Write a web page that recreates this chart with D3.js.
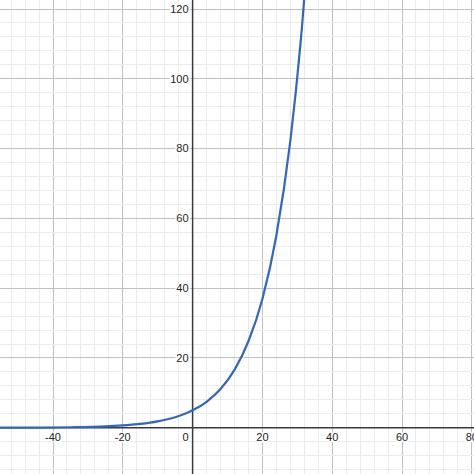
<!DOCTYPE html>
<html>
<head>
<meta charset="utf-8">
<script src="https://cdn.jsdelivr.net/npm/d3@7"></script>
<style>
  html, body { margin: 0; padding: 0; background: #fff; }
  svg { display: block; }
  text { font-family: "Liberation Sans", Arial, sans-serif; font-size: 11px; fill: #222; }
</style>
</head>
<body>
<div id="chart"></div>
<script>
// values
const curveX = [-56, -45, -35, -25, -15, -10, -5, 0, 4, 8, 12, 16, 20, 24, 28, 31, 34];
const curveY = [0.02, 0.06, 0.15, 0.41, 1.1, 1.84, 3.03, 5, 7.46, 11.1, 16.6, 24.8, 36.9, 55.1, 82.2, 111, 150];
const xTickLabels = [-40, -20, 0, 20, 40, 60, 80];
const yTickLabels = [20, 40, 60, 80, 100, 120];

const width = 474, height = 474;
const minorStep = 4, majorStep = 20;

const x = d3.scaleLinear().domain([-55.19, 80.63]).range([0, width]);
const y = d3.scaleLinear().domain([-13.24, 122.58]).range([height, 0]);

const svg = d3.select("#chart").append("svg")
  .attr("width", width)
  .attr("height", height);

// grid
const xMinor = d3.range(Math.ceil(x.domain()[0] / minorStep) * minorStep, x.domain()[1], minorStep);
const yMinor = d3.range(Math.ceil(y.domain()[0] / minorStep) * minorStep, y.domain()[1], minorStep);

const grid = svg.append("g").attr("shape-rendering", "crispEdges");
grid.selectAll("line.vx")
  .data(xMinor.filter((v) => v !== 0))
  .join("line")
  .attr("x1", (d) => x(d)).attr("x2", (d) => x(d))
  .attr("y1", 0).attr("y2", height)
  .attr("stroke", (d) => (d % majorStep === 0 ? "#bfbfbf" : "#ebebeb"))
  .attr("stroke-width", 1);
grid.selectAll("line.hy")
  .data(yMinor.filter((v) => v !== 0))
  .join("line")
  .attr("y1", (d) => y(d)).attr("y2", (d) => y(d))
  .attr("x1", 0).attr("x2", width)
  .attr("stroke", (d) => (d % majorStep === 0 ? "#bfbfbf" : "#ebebeb"))
  .attr("stroke-width", 1);

// axes
svg.append("line")
  .attr("x1", 0).attr("x2", width)
  .attr("y1", y(0)).attr("y2", y(0))
  .attr("stroke", "#3a3a3a").attr("stroke-width", 1.5);
svg.append("line")
  .attr("x1", x(0)).attr("x2", x(0))
  .attr("y1", 0).attr("y2", height)
  .attr("stroke", "#3a3a3a").attr("stroke-width", 1.5);

// curve
const line = d3.line()
  .x((d) => x(d[0]))
  .y((d) => y(d[1]))
  .curve(d3.curveMonotoneX);

svg.append("path")
  .datum(curveX.map((v, i) => [v, curveY[i]]))
  .attr("fill", "none")
  .attr("stroke", "#3468b4")
  .attr("stroke-width", 2.2)
  .attr("stroke-linejoin", "round")
  .attr("d", line);

// tick labels with white halo
const labels = svg.append("g")
  .attr("stroke", "#fff")
  .attr("stroke-width", 3)
  .attr("paint-order", "stroke");

labels.selectAll("text.xl")
  .data(xTickLabels)
  .join("text")
  .attr("x", (d) => (d === 0 ? x(0) - 4 : x(d)))
  .attr("y", y(0) + 13)
  .attr("text-anchor", (d) => (d === 0 ? "end" : "middle"))
  .text((d) => d);

labels.selectAll("text.yl")
  .data(yTickLabels)
  .join("text")
  .attr("x", x(0) - 4)
  .attr("y", (d) => y(d))
  .attr("dy", "0.35em")
  .attr("text-anchor", "end")
  .text((d) => d);
</script>
</body>
</html>
